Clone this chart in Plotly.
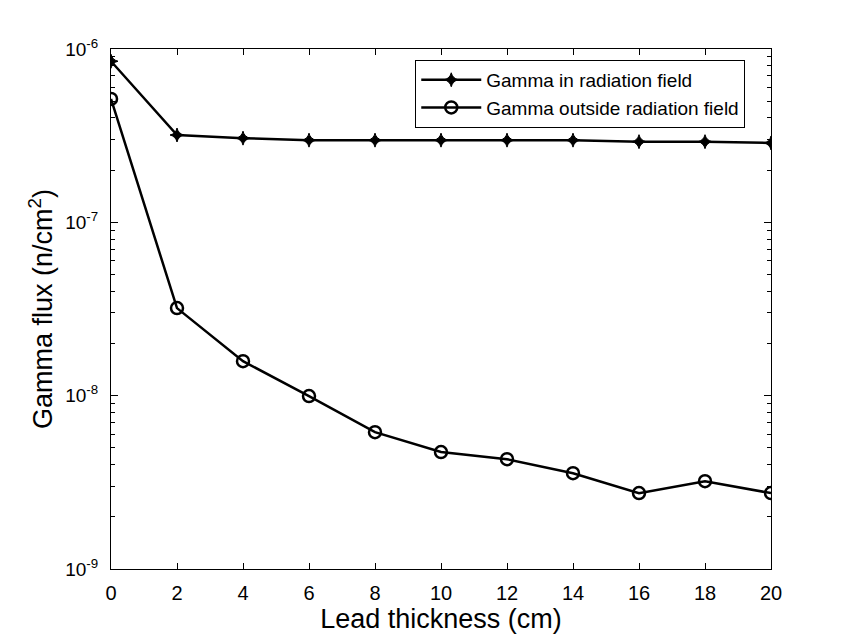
import plotly.graph_objects as go

thickness = [0, 2, 4, 6, 8, 10, 12, 14, 16, 18, 20]
gamma_in = [8.5e-7, 3.19e-7, 3.06e-7, 2.98e-7, 2.98e-7, 2.98e-7, 2.98e-7, 2.98e-7, 2.92e-7, 2.92e-7, 2.87e-7]
gamma_out = [5.15e-7, 3.2e-8, 1.58e-8, 9.95e-9, 6.16e-9, 4.73e-9, 4.3e-9, 3.57e-9, 2.74e-9, 3.21e-9, 2.74e-9]

major_vals = [1e-9, 1e-8, 1e-7, 1e-6]
major_text = ["10<sup>-9</sup>", "10<sup>-8</sup>", "10<sup>-7</sup>", "10<sup>-6</sup>"]
minor_vals = [m * 10.0 ** e for e in (-9, -8, -7) for m in range(2, 10)]

fig = go.Figure()
fig.add_trace(go.Scatter(
    x=thickness, y=gamma_in, mode="lines+markers", name="Gamma in radiation field",
    line=dict(color="black", width=2.5),
    marker=dict(symbol="star-diamond", size=10, color="black", line=dict(color="black", width=1)),
))
fig.add_trace(go.Scatter(
    x=thickness, y=gamma_out, mode="lines+markers", name="Gamma outside radiation field",
    line=dict(color="black", width=2.5),
    marker=dict(symbol="circle-open", size=12, color="black", line=dict(color="black", width=2.5)),
))

fam = "Liberation Sans, Arial"
fig.update_layout(
    width=853, height=640,
    margin=dict(l=111, r=82, t=49, b=71),
    paper_bgcolor="white", plot_bgcolor="white",
    font=dict(family=fam, color="black"),
    showlegend=True,
    legend=dict(
        x=0.461, y=0.979, xanchor="left", yanchor="top",
        bgcolor="white", bordercolor="black", borderwidth=1,
        font=dict(family=fam, size=19, color="black"),
        itemwidth=60, tracegroupgap=0,
    ),
    xaxis=dict(
        range=[0, 20], tickvals=thickness, ticks="inside", ticklen=6,
        tickcolor="black", mirror="ticks", showline=True, linecolor="black", linewidth=1,
        showgrid=False, zeroline=False, tickfont=dict(family=fam, size=20, color="black"),
        ticklabelstandoff=6, automargin=False,
        title=dict(text="Lead thickness (cm)", font=dict(size=27, family=fam, color="black"), standoff=4),
    ),
    yaxis=dict(
        type="log", range=[-9, -6], tickvals=major_vals, ticktext=major_text,
        ticks="inside", ticklen=7, tickcolor="black", mirror="ticks",
        showline=True, linecolor="black", linewidth=1, showgrid=False, zeroline=False,
        tickfont=dict(family=fam, size=19, color="black"), ticklabelstandoff=8, automargin=False,
        minor=dict(tickvals=minor_vals, ticks="inside", ticklen=4, tickcolor="black", showgrid=False),
        title=dict(text="Gamma flux (n/cm<sup>2</sup>)", font=dict(size=27, family=fam, color="black"), standoff=4),
    ),
)

fig.write_html("out.html")
